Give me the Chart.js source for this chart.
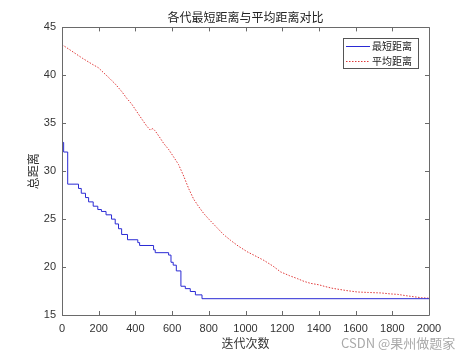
<!DOCTYPE html>
<html><head><meta charset="utf-8">
<script src="https://cdn.jsdelivr.net/npm/chart.js@4.4.1/dist/chart.umd.min.js"></script>
<style>html,body{margin:0;padding:0;background:#fff;overflow:hidden;}</style>
</head><body>
<canvas id="c" width="474" height="355" style="width:474px;height:355px;display:block"></canvas>
<script>
const titleText = '各代最短距离与平均距离对比';
const xLabel = '迭代次数';
const yLabel = '总距离';
const seriesNames = ['最短距离', '平均距离'];
const watermark = 'CSDN @果州做题家';
const xTicks = [0, 200, 400, 600, 800, 1000, 1200, 1400, 1600, 1800, 2000];
const yTicks = [15, 20, 25, 30, 35, 40, 45];

const minIter = [0, 1, 9, 31, 90, 105, 128, 145, 170, 195, 215, 240, 270, 290, 308, 325, 357, 413, 423, 499, 508, 581, 594, 606, 623, 648, 672, 699, 727, 763, 2000];
const minDist = [35.0, 33.0, 32.0, 28.65, 28.2, 27.7, 27.25, 26.8, 26.35, 26.0, 25.8, 25.45, 25.0, 24.5, 24.0, 23.4, 22.85, 22.55, 22.25, 21.8, 21.5, 21.25, 20.5, 20.2, 19.6, 18.0, 17.75, 17.45, 17.1, 16.7, 16.7];

const avgIter = [0, 40, 71, 110, 144, 170, 198, 225, 253, 290, 326, 353, 380, 408, 440, 462, 481, 495, 508, 530, 554, 580, 608, 635, 663, 690, 717, 745, 772, 800, 845, 880, 918, 960, 1009, 1050, 1100, 1150, 1191, 1240, 1282, 1320, 1355, 1400, 1428, 1470, 1501, 1550, 1610, 1670, 1738, 1790, 1829, 1880, 1920, 1960, 2000];
const avgDist = [43.2, 42.7, 42.3, 41.8, 41.4, 41.1, 40.8, 40.3, 39.8, 39.1, 38.3, 37.6, 37.0, 36.2, 35.3, 34.7, 34.3, 34.45, 34.2, 33.6, 32.9, 32.3, 31.5, 30.7, 29.5, 28.2, 27.1, 26.3, 25.6, 25.0, 24.1, 23.4, 22.8, 22.2, 21.6, 21.2, 20.7, 20.1, 19.5, 19.1, 18.8, 18.5, 18.3, 18.15, 18.0, 17.8, 17.7, 17.55, 17.4, 17.35, 17.3, 17.2, 17.15, 17.0, 16.9, 16.8, 16.75];

const CJK = '"Noto Sans CJK SC", "Noto Sans", sans-serif';
const LAT = '"Liberation Sans", Arial, sans-serif';
const axisColor = '#6a6a6a';
const blue = '#2a2ad4';
const red = '#e03a3a';

const boxPlugin = {
  id: 'matlabBox',
  afterDraw(chart) {
    const ctx = chart.ctx;
    const a = chart.chartArea;
    const xs = chart.scales.x, ys = chart.scales.y;
    ctx.save();
    ctx.strokeStyle = axisColor;
    ctx.lineWidth = 1;
    ctx.beginPath();
    ctx.rect(Math.round(a.left) + 0.5, Math.round(a.top) + 0.5, Math.round(a.right - a.left), Math.round(a.bottom - a.top));
    ctx.stroke();
    const tl = 4;
    ctx.beginPath();
    xTicks.forEach(v => {
      const px = Math.round(xs.getPixelForValue(v)) + 0.5;
      ctx.moveTo(px, a.bottom); ctx.lineTo(px, a.bottom - tl);
      ctx.moveTo(px, a.top); ctx.lineTo(px, a.top + tl);
    });
    yTicks.forEach(v => {
      const py = Math.round(ys.getPixelForValue(v)) + 0.5;
      ctx.moveTo(a.left, py); ctx.lineTo(a.left + tl, py);
      ctx.moveTo(a.right, py); ctx.lineTo(a.right - tl, py);
    });
    ctx.stroke();

    // legend
    const lx = 343, ly = 38, lw = 75, lh = 30;
    ctx.fillStyle = '#fff';
    ctx.fillRect(lx, ly, lw, lh);
    ctx.strokeStyle = '#555';
    ctx.strokeRect(lx + 0.5, ly + 0.5, lw, lh);
    const ds = chart.data.datasets;
    ds.forEach((d, i) => {
      const yy = ly + 8 + i * 15 + 0.5;
      ctx.strokeStyle = d.borderColor;
      ctx.lineWidth = 1;
      ctx.setLineDash(d.borderDash || []);
      ctx.beginPath(); ctx.moveTo(lx + 3, yy); ctx.lineTo(lx + 27, yy); ctx.stroke();
      ctx.setLineDash([]);
      ctx.fillStyle = '#222';
      ctx.font = '10px ' + CJK;
      ctx.textBaseline = 'middle';
      ctx.textAlign = 'left';
      ctx.fillText(d.label, lx + 29, yy);
    });

    // watermark
    ctx.font = '13px ' + CJK;
    ctx.fillStyle = 'rgba(140,140,140,0.75)';
    ctx.textAlign = 'left';
    ctx.textBaseline = 'alphabetic';
    ctx.fillText(watermark, 341, 348);
    ctx.restore();
  }
};

new Chart(document.getElementById('c').getContext('2d'), {
  type: 'line',
  data: {
    datasets: [
      { label: seriesNames[0], data: minIter.map((x, i) => ({ x, y: minDist[i] })), borderColor: blue, borderWidth: 1, pointRadius: 0, stepped: 'before', fill: false },
      { label: seriesNames[1], data: avgIter.map((x, i) => ({ x, y: avgDist[i] })), borderColor: red, borderWidth: 1, borderDash: [1.5, 1.5], pointRadius: 0, tension: 0, fill: false }
    ]
  },
  options: {
    responsive: false,
    animation: false,
    devicePixelRatio: 1,
    layout: { padding: { left: 0, right: 45, top: 0, bottom: 0 } },
    plugins: {
      legend: { display: false },
      tooltip: { enabled: false },
      title: { display: true, fullSize: false, text: titleText, color: '#222', font: { family: CJK, size: 12, weight: 'normal' }, padding: { top: 10, bottom: 3 } }
    },
    scales: {
      x: {
        type: 'linear', min: 0, max: 2000,
        afterBuildTicks: s => { s.ticks = xTicks.map(v => ({ value: v })); },
        grid: { display: false, drawTicks: false },
        border: { display: false },
        ticks: { color: '#333', font: { family: LAT, size: 11 }, padding: 7, maxRotation: 0, autoSkip: false, callback: v => String(v) },
        title: { display: true, text: xLabel, color: '#333', font: { family: CJK, size: 12 }, padding: { top: 0, bottom: 4 } },
        afterFit: s => { s.height = 40; }
      },
      y: {
        type: 'linear', min: 15, max: 45,
        afterBuildTicks: s => { s.ticks = yTicks.map(v => ({ value: v })); },
        grid: { display: false, drawTicks: false },
        border: { display: false },
        ticks: { color: '#333', font: { family: LAT, size: 11 }, padding: 6, autoSkip: false, callback: v => String(v) },
        title: { display: true, text: yLabel, color: '#333', font: { family: CJK, size: 12 }, padding: { top: 26, bottom: 0 } },
        afterFit: s => { s.width = 62; }
      }
    }
  },
  plugins: [boxPlugin]
});
</script>
</body></html>
